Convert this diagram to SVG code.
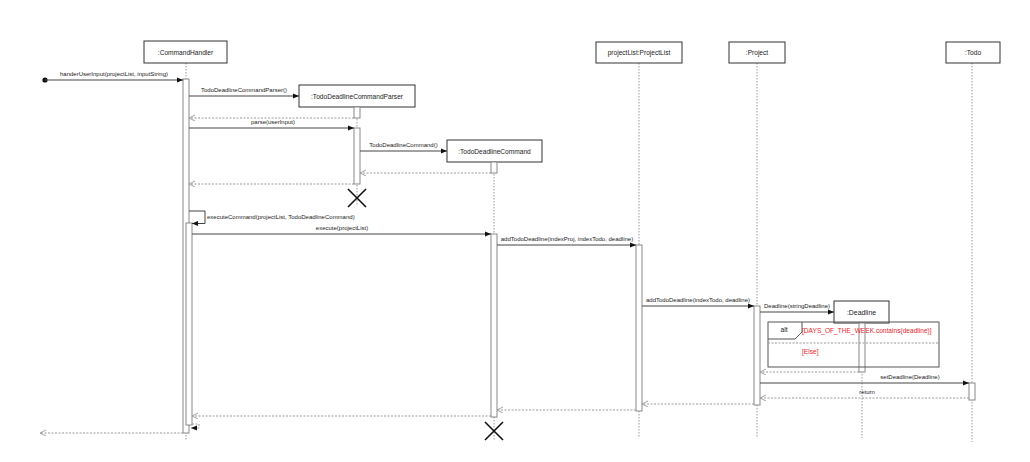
<svg xmlns="http://www.w3.org/2000/svg" width="1030" height="462" viewBox="0 0 1030 462">
<defs>
<style>
.box{fill:#fff;stroke:#333;stroke-width:1}
.hdr{font-family:"Liberation Sans",Arial,sans-serif;font-size:6.6px;fill:#222;text-anchor:middle}
.life{stroke:#999;stroke-width:1;stroke-dasharray:1.5,1.5;fill:none}
.act{fill:#fff;stroke:#888;stroke-width:1}
.msg{stroke:#444;stroke-width:1;fill:none;marker-end:url(#fa)}
.ret{stroke:#999;stroke-width:1;stroke-dasharray:2,1.5;fill:none;marker-end:url(#oa)}
.lbl{font-family:"Liberation Sans",Arial,sans-serif;font-size:6px;fill:#222;text-anchor:middle}
.x{stroke:#111;stroke-width:1.6}
.guard{font-family:"Liberation Sans",Arial,sans-serif;font-size:6.6px;fill:#e8262b}
</style>
<marker id="fa" markerUnits="userSpaceOnUse" markerWidth="7" markerHeight="6" refX="6" refY="3" orient="auto">
<path d="M0,0.5 L6,3 L0,5.5 z" fill="#111"/>
</marker>
<marker id="oa" markerUnits="userSpaceOnUse" markerWidth="7" markerHeight="7" refX="6" refY="3" orient="auto">
<path d="M0,0 L6,3 L0,6" fill="none" stroke="#999" stroke-width="0.9"/>
</marker>
</defs>
<rect width="1030" height="462" fill="#fff"/>

<g id="commandHandler">
<line class="life" x1="186" y1="63" x2="186" y2="440"/>
<rect class="box" x="144" y="41" width="83" height="22"/>
<text class="hdr" x="185.5" y="54.5">:CommandHandler</text>
<rect class="act" x="183" y="79" width="6" height="354"/>
<rect class="act" x="186" y="223" width="6" height="202"/>
</g>

<g id="todoDeadlineCommandParser">
<line class="life" x1="357" y1="107" x2="357" y2="205"/>
<rect class="box" x="299" y="85" width="116" height="22"/>
<text class="hdr" x="357" y="98.5">:TodoDeadlineCommandParser</text>
<rect class="act" x="354" y="107" width="6" height="11"/>
<rect class="act" x="354" y="128" width="6" height="56"/>
<path class="x" d="M348,189 L366,207 M366,189 L348,207"/>
</g>

<g id="todoDeadlineCommand">
<line class="life" x1="494" y1="162" x2="494" y2="440"/>
<rect class="box" x="447" y="140" width="95" height="22"/>
<text class="hdr" x="494.5" y="153.5">:TodoDeadlineCommand</text>
<rect class="act" x="491" y="162" width="6" height="11"/>
<rect class="act" x="491" y="234" width="6" height="183"/>
<path class="x" d="M485,422 L503,440 M503,422 L485,440"/>
</g>

<g id="projectList">
<line class="life" x1="639" y1="63" x2="639" y2="438"/>
<rect class="box" x="596" y="42" width="86" height="21"/>
<text class="hdr" x="639" y="54.5">projectList:ProjectList</text>
<rect class="act" x="636" y="245" width="6" height="166"/>
</g>

<g id="project">
<line class="life" x1="757" y1="63" x2="757" y2="438"/>
<rect class="box" x="729" y="42" width="56" height="21"/>
<text class="hdr" x="757" y="54.5">:Project</text>
<rect class="act" x="754" y="306" width="6" height="99"/>
</g>

<g id="todo">
<line class="life" x1="972" y1="63" x2="972" y2="442"/>
<rect class="box" x="946" y="42" width="54" height="21"/>
<text class="hdr" x="973" y="54.5">:Todo</text>
<rect class="act" x="969" y="383" width="6" height="17"/>
</g>

<g id="deadline">
<line class="life" x1="862" y1="323" x2="862" y2="438"/>
<rect class="box" x="834" y="301" width="55" height="22"/>
<text class="hdr" x="861.5" y="314.5" style="font-size:6.9px">:Deadline</text>
<rect class="act" x="859" y="323" width="6" height="49"/>
</g>

<g id="altFrame">
<rect x="768" y="322" width="171" height="45" fill="none" stroke="#555" stroke-width="1"/>
<path d="M768,339 H795 L802,332 V322" fill="none" stroke="#555" stroke-width="1"/>
<text class="hdr" x="784" y="332" style="font-size:6.6px">alt</text>
<line x1="768" y1="343" x2="939" y2="343" stroke="#999" stroke-width="1" stroke-dasharray="2,1.5"/>
<text class="guard" x="802" y="333">[DAYS_OF_THE_WEEK.contains(deadline)]</text>
<text class="guard" x="802" y="354">[Else]</text>
</g>

<g id="connectors">
<circle cx="45" cy="80" r="2.6" fill="#111"/>
<line class="msg" x1="45" y1="80" x2="183" y2="80"/>
<text class="lbl" x="114" y="76">handerUserInput(projectList, inputString)</text>

<line class="msg" x1="189" y1="96" x2="299" y2="96"/>
<text class="lbl" x="244" y="92">TodoDeadlineCommandParser()</text>

<line class="ret" x1="354" y1="118" x2="189" y2="118"/>

<line class="msg" x1="189" y1="128" x2="354" y2="128"/>
<text class="lbl" x="273" y="124">parse(userInput)</text>

<line class="msg" x1="360" y1="151" x2="447" y2="151"/>
<text class="lbl" x="403.5" y="147">TodoDeadlineCommand()</text>

<line class="ret" x1="491" y1="173" x2="360" y2="173"/>
<line class="ret" x1="354" y1="184" x2="189" y2="184"/>

<path class="msg" d="M189,211 H205 V223.5 H192"/>
<text class="lbl" x="207" y="219" style="text-anchor:start">executeCommand(projectList, TodoDeadlineCommand)</text>

<line class="msg" x1="192" y1="234" x2="491" y2="234"/>
<text class="lbl" x="342" y="230">execute(projectList)</text>

<line class="msg" x1="497" y1="245" x2="636" y2="245"/>
<text class="lbl" x="567" y="241">addTodoDeadline(indexProj, indexTodo, deadline)</text>

<line class="msg" x1="642" y1="306" x2="754" y2="306"/>
<text class="lbl" x="698" y="302">addTodoDeadline(indexTodo, deadline)</text>

<line class="msg" x1="760" y1="312" x2="834" y2="312"/>
<text class="lbl" x="797" y="308">Deadline(stringDeadline)</text>

<line class="ret" x1="859" y1="372" x2="760" y2="372"/>

<line class="msg" x1="760" y1="383" x2="969" y2="383"/>
<text class="lbl" x="910" y="379">setDeadline(Deadline)</text>

<line class="ret" x1="969" y1="398" x2="760" y2="398"/>
<text class="lbl" x="867" y="394">return</text>

<line class="ret" x1="754" y1="404" x2="642" y2="404"/>
<line class="ret" x1="636" y1="410" x2="497" y2="410"/>
<line class="ret" x1="491" y1="416" x2="192" y2="416"/>

<path d="M192,424 H199 V428 H191" fill="none" stroke="#999" stroke-width="1" stroke-dasharray="2,1.5" marker-end="url(#fa)"/>

<line class="ret" x1="183" y1="433" x2="40" y2="433"/>
</g>
</svg>
